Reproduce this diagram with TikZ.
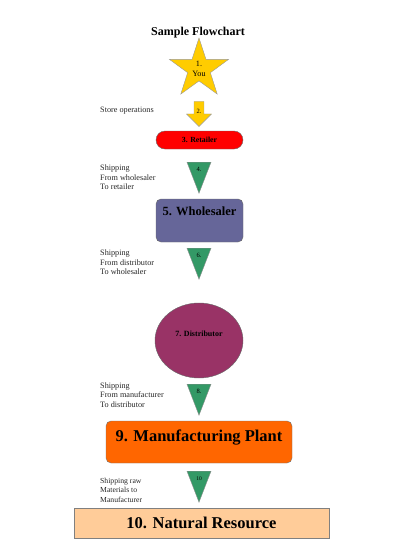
\documentclass[tikz,border=0pt]{standalone}
\usepackage{fontspec}
\setmainfont{Liberation Serif}
\usetikzlibrary{positioning,shapes.geometric,shapes.arrows,shapes.misc}

\definecolor{youcol}{HTML}{FFCC00}
\definecolor{shipcol}{HTML}{339966}
\definecolor{wholecol}{HTML}{666699}
\definecolor{distcol}{HTML}{993366}
\definecolor{manucol}{HTML}{FF6600}
\definecolor{natcol}{HTML}{FFCC99}

\begin{document}
\begin{tikzpicture}[x=1pt,y=-1pt,
	side/.style={font=\fontsize{8.2}{9.6}\selectfont, align=left, anchor=west,
		inner sep=0pt, text=black!85},
	shiptri/.style={isosceles triangle, isosceles triangle stretches,
		shape border rotate=270, minimum width=24pt, minimum height=31pt,
		inner sep=0pt, fill=shipcol, draw=black!45,
		font=\fontsize{6.5}{7}\selectfont, anchor=north}]
\useasboundingbox (0,0) rectangle (400,558);
% Title
\node[font=\bfseries\fontsize{12}{14}\selectfont] (title) at (198,33) {Sample Flowchart};
% Star
\node[star, star points=5, star point ratio=2.6, minimum size=62pt, inner sep=0pt,
	fill=youcol, draw=black!40, align=center, font=\fontsize{8.2}{10.5}\selectfont]
	(you) at (199,69) {1.\\You};
% Block arrow
\node[single arrow, shape border rotate=270, minimum height=25pt, minimum width=25pt,
	single arrow head extend=5.5pt, inner sep=1pt, fill=youcol, draw=black!40,
	font=\fontsize{6.5}{7}\selectfont] (store) at (199,111.5) {2.};
\node[side] (storetxt) at (100,111) {Store operations};
% Retailer
\node[rounded rectangle, minimum width=87pt, minimum height=18pt, inner sep=0pt,
	fill=red, draw=black!60, font=\bfseries\fontsize{7.8}{9}\selectfont]
	(retailer) at (199.5,140) {3. Retailer};
% Shipping to retailer
\node[shiptri] (ship4) at (199,162) {4.};
\node[side] (ship4txt) at (100,177.5) {Shipping\\From wholesaler\\To retailer};
% Wholesaler
\node[rectangle, rounded corners=5pt, minimum width=87pt, inner sep=6pt,
	text height=10pt, text depth=21pt, fill=wholecol, draw=black!60,
	font=\bfseries\fontsize{12.5}{14}\selectfont]
	(wholesaler) at (199.5,220.5) {5. Wholesaler};
% Shipping to wholesaler
\node[shiptri] (ship6) at (199,248) {6.};
\node[side] (ship6txt) at (100,262.5) {Shipping\\From distributor\\To wholesaler};
% Distributor
\node[ellipse, minimum width=88pt, minimum height=75pt, inner sep=0pt,
	text height=5pt, text depth=14pt, fill=distcol, draw=black!60,
	font=\bfseries\fontsize{8}{9}\selectfont]
	(distributor) at (199,340.5) {7. Distributor};
% Shipping to distributor
\node[shiptri] (ship8) at (199,384) {8.};
\node[side] (ship8txt) at (100,395) {Shipping\\From manufacturer\\To distributor};
% Manufacturing plant
\node[rectangle, rounded corners=5pt, minimum width=186pt, inner sep=6pt,
	text height=14.5pt, text depth=15.5pt, fill=manucol, draw=black!55,
	font=\bfseries\fontsize{16.5}{18}\selectfont]
	(plant) at (199,442) {9. Manufacturing Plant};
% Shipping raw materials
\node[shiptri, font=\fontsize{5.5}{6}\selectfont] (ship10) at (199,471) {10};
\node[side, font=\fontsize{7.7}{9.4}\selectfont] (ship10txt) at (100,490)
	{Shipping raw\\Materials to\\Manufacturer};
% Natural resource
\node[rectangle, minimum width=255pt, minimum height=30pt, inner sep=0pt,
	fill=natcol, draw=black!50, font=\bfseries\fontsize{16.5}{18}\selectfont]
	(nature) at (201.5,523) {10. Natural Resource};
\end{tikzpicture}
\end{document}
